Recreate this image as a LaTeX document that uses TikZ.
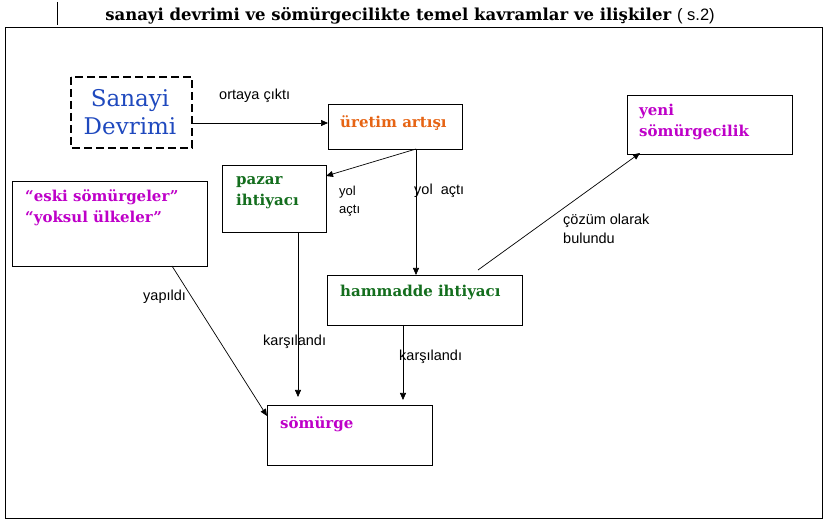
\documentclass[tikz,border=0pt]{standalone}
\usepackage{fontspec}
\setmainfont{DejaVu Serif}
\setsansfont{Liberation Sans}
\usetikzlibrary{arrows.meta}
\definecolor{dblue}{RGB}{31,73,190}
\definecolor{orng}{RGB}{230,100,20}
\definecolor{grn}{RGB}{20,110,30}
\definecolor{purp}{RGB}{190,0,200}
\begin{document}
\begin{tikzpicture}[x=1pt,y=-1pt,
  bx/.style={draw,line width=0.8pt},
  lbl/.style={font=\sffamily\fontsize{14.5}{19}\selectfont,align=left,anchor=west,inner sep=0},
  t/.style={font=\bfseries\fontsize{15}{21}\selectfont,align=left,anchor=north west,inner sep=0},
  ar/.style={-{Triangle[length=7pt,width=6pt]},line width=0.7pt}]
\useasboundingbox (0,0) rectangle (831,529);
\node[inner sep=0,font=\bfseries\fontsize{16.5}{18}\selectfont] (title) at (410,16) {sanayi devrimi ve sömürgecilikte temel kavramlar ve ilişkiler \textmd{\sffamily( s.2)}};
\draw[line width=1pt] (57,2) -- (57,25);
\draw[line width=0.8pt] (5,27) rectangle (822,518);
\draw[line width=2pt,dash pattern=on 8pt off 4pt] (71,77) rectangle (192,148);
\node[font=\fontsize{23}{28}\selectfont,text=dblue,align=center] (sd) at (130,112) {Sanayi\\Devrimi};
\draw[bx] (328,104) rectangle (462,149);
\node[t,text=orng] (ua) at (340,115) {üretim artışı};
\draw[bx] (627,95) rectangle (792,154);
\node[t,text=purp] (ys) at (639,104) {yeni\\sömürgecilik};
\draw[bx] (222,165) rectangle (326,232);
\node[t,text=grn] (pi) at (236,176) {pazar\\ihtiyacı};
\draw[bx] (12,181) rectangle (207,266);
\node[t,text=purp] (es) at (25,189) {“eski sömürgeler”\\“yoksul ülkeler”};
\draw[bx] (327,275) rectangle (522,325);
\node[t,text=grn] (hi) at (340,285) {hammadde ihtiyacı};
\draw[bx] (267,405) rectangle (432,465);
\node[t,text=purp] (so) at (280,416) {sömürge};
\coordinate (a1) at (192,123); \coordinate (a2) at (328,123);
\draw[ar] (a1) -- (a2);
\node[lbl] (l1) at (219,96) {ortaya çıktı};
\coordinate (b1) at (416,149); \coordinate (b2) at (326,176);
\draw[ar] (b1) -- (b2);
\node[lbl,font=\sffamily\fontsize{13}{18}\selectfont] (l2) at (339,201) {yol\\açtı};
\coordinate (c2) at (416,275);
\draw[ar] (b1) -- (c2);
\node[lbl] (l3) at (414,191) {yol \ açtı};
\coordinate (d1) at (478,270); \coordinate (d2) at (640,153);
\draw[ar] (d1) -- (d2);
\node[lbl] (l4) at (563,229) {çözüm olarak\\bulundu};
\coordinate (e1) at (172,266); \coordinate (e2) at (267,416);
\draw[ar] (e1) -- (e2);
\node[lbl] (l5) at (143,297) {yapıldı};
\coordinate (f1) at (298,232); \coordinate (f2) at (298,397);
\draw[ar] (f1) -- (f2);
\node[lbl] (l6) at (263,342) {karşılandı};
\coordinate (g1) at (403,325); \coordinate (g2) at (403,400);
\draw[ar] (g1) -- (g2);
\node[lbl] (l7) at (399,357) {karşılandı};
\end{tikzpicture}
\end{document}
